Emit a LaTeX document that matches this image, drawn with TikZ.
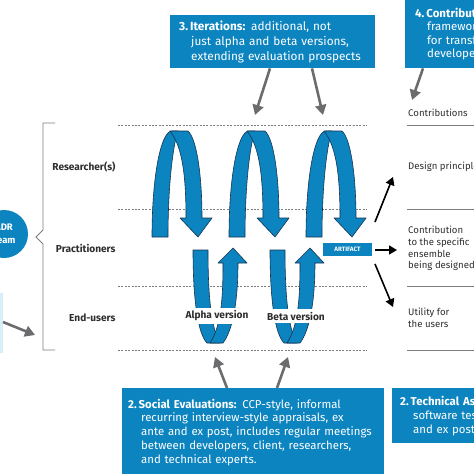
\documentclass[tikz,border=0pt]{standalone}
\usepackage{fontspec}
\setmainfont{Fira Sans}
\usetikzlibrary{arrows.meta}
\definecolor{adrblue}{RGB}{12,132,192}
\definecolor{ribbonedge}{RGB}{22,52,82}
\definecolor{arrgray}{RGB}{108,108,110}
\definecolor{rulegray}{RGB}{125,125,125}
\definecolor{paleblue}{RGB}{214,240,251}
\definecolor{labeltext}{RGB}{45,45,45}

\begin{document}
\begin{tikzpicture}[x=1pt,y=-1pt,>=latex,
    bluebox/.style={fill=adrblue,text=white,align=left,anchor=north west,inner ysep=3pt,
      font=\fontsize{11.5}{14.5}\selectfont},
    grayarrow/.style={draw=arrgray,line width=2.6pt,-{Triangle[length=10pt,width=11pt]}},
    blackarrow/.style={draw=black,line width=1.6pt,-{Triangle[length=8pt,width=9pt]}},
    levelline/.style={rulegray,dashed,dash pattern=on 2pt off 1.4pt,line width=0.7pt},
    rightline/.style={rulegray,line width=0.9pt},
    rowlabel/.style={anchor=east,text=labeltext,font=\fontsize{10.1}{12}\selectfont\bfseries},
    contriblabel/.style={anchor=west,align=left,text=labeltext,inner sep=0pt,
      font=\fontsize{9.6}{11.7}\selectfont},
    versionlabel/.style={fill=white,text=labeltext,inner xsep=1pt,inner ysep=3pt,
      font=\fontsize{10.1}{12}\selectfont\bfseries},
    ribbon/.style={fill=adrblue,draw=ribbonedge,line width=0.6pt,line join=round},
    toploop/.pic={
      % back face, left leg
      \path[ribbon] (0,0) .. controls (0,-62) and (9,-106) .. (20,-106) -- (26,-106)
        .. controls (21,-92) and (16,-52) .. (16,0) -- cycle;
      % front face with the head
      \path[ribbon] (18,-106) -- (36,-106) .. controls (45,-98) and (50,-60) .. (50,-19)
        -- (60,-19) -- (46,0) -- (28,-19) -- (34,-19)
        .. controls (34,-58) and (31,-90) .. (18,-106) -- cycle;
    },
    bottomloop/.pic={
      % back face, left leg
      \path[ribbon] (0,0) -- (15,0) .. controls (15,45) and (18,78) .. (27,93) -- (14,93)
        .. controls (5,84) and (0,50) .. (0,0) -- cycle;
      % front face with the head
      \path[ribbon] (17,93) -- (30,93) .. controls (40,80) and (45,50) .. (45,13)
        -- (54,13) -- (40,-2) -- (25,13) -- (30,13)
        .. controls (30,50) and (28,76) .. (17,93) -- cycle;
    }]
  \useasboundingbox (0,0) rectangle (474,474);
  \clip (0,0) rectangle (474,474);

  % level lines
  \foreach \yy in {125,209,286,350} {
    \draw[levelline] (118,\yy) -- (367,\yy);
    \draw[rightline] (407,\yy) -- (474,\yy);
  }

  % brace round the three groups
  \draw[rulegray,line width=0.9pt] (55,123) -- (43,123) -- (43,230) -- (36,237)
    -- (43,244) -- (43,350) -- (55,350);

  % left side, cut by the page edge
  \node[circle,fill=adrblue,text=white,minimum size=48pt,inner sep=0pt,align=center,
    font=\fontsize{9.5}{12.5}\selectfont\bfseries] (teamcirc) at (4,234) {ADR\\Team};
  \node[fill=paleblue,minimum width=40pt,minimum height=60pt,inner sep=0pt,anchor=north east]
    (leftbox) at (3,293) {};
  \coordinate (braceend) at (35,335);
  \draw[grayarrow] (leftbox.east |- 0,322) -- (braceend);

  % row labels
  \node[rowlabel] (lblres) at (119,167) {Researcher(s)};
  \node[rowlabel] (lblprac) at (119,248) {Practitioners};
  \node[rowlabel] (lblend) at (119,318) {End-users};

  % the loops
  \foreach \xx in {0,77,154}
    \pic at (152+\xx,237) {toploop};
  \foreach \xx in {0,77}
    \pic at (193+\xx,250) {bottomloop};
  \node[versionlabel] (alpha) at (217,316) {Alpha version};
  \node[versionlabel] (beta) at (296,316) {Beta version};

  % artifact and its results
  \node[fill=adrblue,text=white,minimum width=49pt,minimum height=13pt,inner sep=0pt,
    font=\fontsize{6.3}{7}\selectfont\bfseries] (artifact) at (347.5,249.5) {ARTIFACT};
  \coordinate (upstart) at (375,222);
  \coordinate (midstart) at (375,250);
  \coordinate (downstart) at (375,264);
  \coordinate (designend) at (393,177);
  \coordinate (ensembleend) at (397,250);
  \coordinate (usersend) at (393,307);
  \draw[blackarrow] (upstart) -- (designend);
  \draw[blackarrow] (midstart) -- (ensembleend);
  \draw[blackarrow] (downstart) -- (usersend);

  % contribution column
  \node[contriblabel] (rcontrib) at (408,113) {Contributions};
  \node[contriblabel] (rdesign) at (408,167) {Design principles};
  \node[contriblabel] (rensemble) at (408,248.5) {Contribution\\to the specific\\ensemble\\being designed};
  \node[contriblabel] (rusers) at (408,318) {Utility for\\the users};

  % the blue boxes
  \node[bluebox,inner xsep=9pt,minimum width=205pt,minimum height=53pt,text width=187pt,
    font=\fontsize{11.8}{15}\selectfont]
    (iterbox) at (170,15) {\textbf{3.\,Iterations:} additional, not\\
    \hspace*{12pt}just alpha and beta versions,\\
    \hspace*{12pt}extending evaluation prospects};
  \node[bluebox,inner xsep=10pt,minimum height=68pt,text width=200pt,
    font=\fontsize{11.5}{13.5}\selectfont]
    (contribbox) at (405,0) {\textbf{4.\,Contributions:}\\
    \hspace*{12pt}framework\\
    \hspace*{12pt}for transfer to\\
    \hspace*{12pt}developers};
  \node[bluebox,inner xsep=6pt,minimum width=262pt,minimum height=88pt,text width=250pt,
    font=\fontsize{11.4}{13.7}\selectfont]
    (socialbox) at (122,388) {\textbf{2.\,Social Evaluations:} CCP-style, informal\\
    \hspace*{13pt}recurring interview-style appraisals, ex\\
    \hspace*{13pt}ante and ex post, includes regular meetings\\
    \hspace*{13pt}between developers, client, researchers,\\
    \hspace*{13pt}and technical experts.};
  \node[bluebox,inner xsep=8pt,minimum height=55pt,text width=200pt,
    font=\fontsize{11.4}{14}\selectfont]
    (techbox) at (392,388) {\textbf{2.\,Technical Assessments:}\\
    \hspace*{13pt}software testing,\\
    \hspace*{13pt}and ex post};

  % gray arrows from the boxes
  \coordinate (iterleft) at (255,115);
  \coordinate (iterright) at (323,115);
  \coordinate (contribend) at (412,100);
  \coordinate (socialleft) at (215,357);
  \coordinate (socialright) at (288,357);
  \draw[grayarrow] (iterbox.south west -| 270,0) -- (iterleft);
  \draw[grayarrow] (iterbox.south west -| 312,0) -- (iterright);
  \draw[grayarrow] (contribbox.south west -| 423,0) -- (contribend);
  \draw[grayarrow] (socialbox.north west -| 227,0) -- (socialleft);
  \draw[grayarrow] (socialbox.north west -| 277,0) -- (socialright);
\end{tikzpicture}
\end{document}
